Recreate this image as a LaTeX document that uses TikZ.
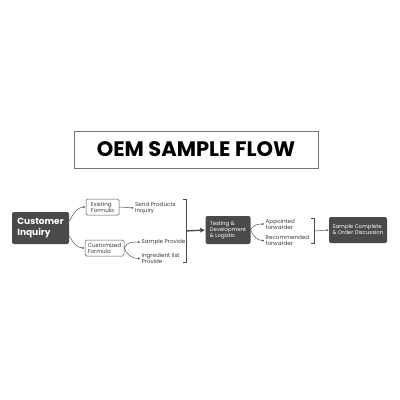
\documentclass[tikz,border=0pt]{standalone}
\usepackage{fontspec}
\setmainfont{Poppins}
\usetikzlibrary{positioning,arrows.meta}

\definecolor{boxgray}{HTML}{4A4A4A}
\definecolor{linegray}{HTML}{555555}
\definecolor{txtgray}{HTML}{3A3A3A}

\tikzset{
  darkbox/.style={fill=boxgray, rounded corners=2pt, text=white, align=left, inner sep=2pt},
  lightbox/.style={draw=linegray, line width=0.5pt, rounded corners=1.5pt, align=left, inner sep=2pt,
    text=txtgray, font=\fontsize{5.6}{6.1}\selectfont},
  plaintext/.style={align=left, inner sep=1pt, text=txtgray, font=\fontsize{5.6}{6.1}\selectfont},
  link/.style={-{Latex[length=2.4pt,width=2.2pt]}, draw=linegray, line width=0.5pt},
  bigarrow/.style={-{Latex[length=5pt,width=5pt]}, draw=boxgray, line width=1.3pt},
  bracket/.style={draw=boxgray, line width=0.9pt},
}

\begin{document}
\begin{tikzpicture}[x=1pt, y=-1pt]
  \useasboundingbox (0,0) rectangle (400,400);

  % Title
  \node[draw=black!55, line width=0.8pt, minimum width=244pt, minimum height=37pt,
    font=\fontsize{21}{24}\selectfont\bfseries] (title) at (196,149.5) {OEM SAMPLE FLOW};

  % Start
  \node[darkbox, minimum width=57pt, minimum height=32pt, font=\fontsize{9}{11}\selectfont\bfseries]
    (inquiry) at (40.5,228) {Customer\\Inquiry};

  % Two kinds of formula
  \node[lightbox, minimum width=33pt, minimum height=16pt] (existing) at (102.5,207) {Existing\\Formula};
  \node[lightbox, minimum width=39pt, minimum height=16pt] (customized) at (104.5,248) {Customized\\Formula};

  \draw[link] (inquiry.east |- 0,221) to[out=60, in=180] (existing.west);
  \draw[link] (inquiry.east |- 0,236) to[out=-60, in=180] (customized.west);

  % Outcomes
  \node[plaintext, anchor=west] (send) at (134,208) {Send Products\\Inquiry};
  \node[plaintext, anchor=west] (sample) at (140.5,242) {Sample Provide};
  \node[plaintext, anchor=west] (ingredient) at (140.5,258.5) {Ingredient list\\Provide};

  \draw[link] (existing.east) -- (send.west);
  \draw[link] (customized.east) to[out=70, in=180] (sample.west);
  \draw[link] (customized.east) to[out=-70, in=180] (ingredient.west);

  % Bracket into testing
  \draw[bracket] (182.5,199) -- (186,199) -- (186,262.5) -- (182.5,262.5);
  \coordinate (join) at (186,231);

  \node[darkbox, minimum width=45pt, minimum height=28pt, font=\fontsize{5.4}{6}\selectfont]
    (testing) at (228,230) {Testing \&\\Development\\\& Logistic};

  \draw[bigarrow] (join) -- (testing.west);

  % Forwarders
  \node[plaintext, anchor=west] (appointed) at (264.5,224) {Appointed\\forwarder};
  \node[plaintext, anchor=west] (recommended) at (264.5,240.5) {Recommended\\forwarder};

  \draw[link] (testing.east) to[out=70, in=180] (appointed.west);
  \draw[link] (testing.east) to[out=-70, in=180] (recommended.west);

  % Bracket into final step
  \draw[bracket] (310.5,218) -- (314,218) -- (314,243.5) -- (310.5,243.5);
  \coordinate (join2) at (314,231);

  \node[darkbox, minimum width=58pt, minimum height=26pt, font=\fontsize{5.4}{6}\selectfont]
    (complete) at (358,230) {Sample Complete\\\& Order Discussion};

  \draw[link] (join2) -- (complete.west);
\end{tikzpicture}
\end{document}
